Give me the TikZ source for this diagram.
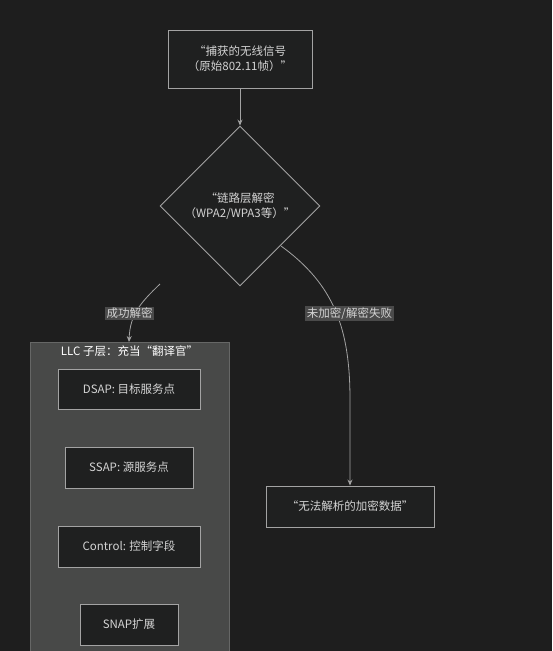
\documentclass[tikz,border=0pt]{standalone}
\usepackage{fontspec}
\setmainfont{Noto Sans CJK SC}
\usetikzlibrary{shapes.geometric,arrows.meta}
\definecolor{bgc}{HTML}{1E1E1E}
\definecolor{nodefill}{HTML}{1F2020}
\definecolor{nodeline}{HTML}{A3A3A3}
\definecolor{txt}{HTML}{D4D4D4}
\definecolor{clfill}{HTML}{484948}
\definecolor{clline}{HTML}{666766}
\definecolor{lblfill}{HTML}{4A4A4A}
\tikzset{
  box/.style={draw=nodeline, line width=0.9pt, fill=nodefill, text=txt, inner sep=0pt, font=\fontsize{11.5}{15}\selectfont, align=center},
  lbl/.style={fill=lblfill, text=txt, inner sep=1.5pt, font=\fontsize{11.5}{14}\selectfont},
  conn/.style={draw=nodeline, line width=0.8pt, -{Stealth[length=6pt,width=5pt]}}
}
\begin{document}
\begin{tikzpicture}[x=1pt,y=-1pt]
\clip (0,0) rectangle (552,651);
\fill[bgc] (0,0) rectangle (552,651);
% cluster
\draw[fill=clfill, draw=clline, line width=0.8pt] (30,342) rectangle (229,660);
\node[text=white, font=\fontsize{11.5}{14}\selectfont] (cltitle) at (129.5,351) {LLC 子层：充当“翻译官”};
% nodes
\node[box, minimum width=144pt, minimum height=58pt] (cap) at (240,59) {“捕获的无线信号\\（原始802.11帧）”};
\node[box, diamond, minimum width=160pt, minimum height=160pt, aspect=1] (dec) at (240,206) {};
\node[text=txt, font=\fontsize{11.5}{15}\selectfont, align=center] (dect) at (240,206) {“链路层解密\\（WPA2/WPA3等）”};
\node[box, minimum width=168pt, minimum height=41pt] (enc) at (350,506.5) {“无法解析的加密数据”};
\node[box, minimum width=142pt, minimum height=40pt] (dsap) at (129,389) {DSAP: 目标服务点};
\node[box, minimum width=128pt, minimum height=41pt] (ssap) at (129,467.5) {SSAP: 源服务点};
\node[box, minimum width=142pt, minimum height=41pt] (ctrl) at (129,546.5) {Control: 控制字段};
\node[box, minimum width=98pt, minimum height=41pt] (snap) at (129,624.5) {SNAP扩展};
% connectors
\coordinate (lstart) at (160,284);
\coordinate (clin) at (129,342);
\coordinate (rstart) at (281,246);
\coordinate (rmid) at (350,400);
\draw[conn] (cap.south) -- (dec.north);
\draw[conn] (lstart) .. controls (140,303) and (130,315) .. (clin);
\draw[conn] (rstart) .. controls (335,285) and (350,330) .. (rmid) -- (enc.north);
\node[lbl] (l1) at (129.5,313.5) {成功解密};
\node[lbl] (l2) at (349.5,313.5) {未加密/解密失败};
\end{tikzpicture}
\end{document}
